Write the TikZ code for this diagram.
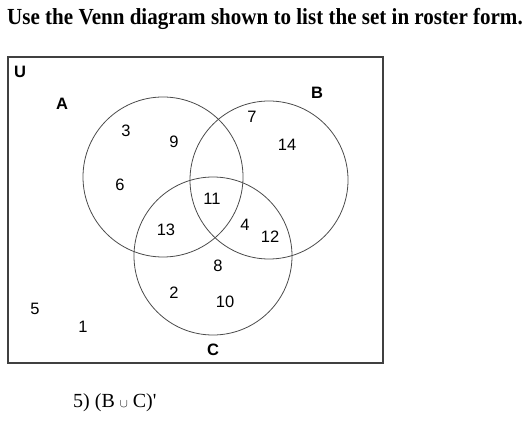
\documentclass[tikz,border=0pt]{standalone}
\usepackage{fontspec}
\setmainfont{Liberation Serif}
\setsansfont{Liberation Sans}

\begin{document}
\begin{tikzpicture}[x=1pt,y=-1pt,
  num/.style={font=\sffamily\fontsize{16.5}{16.5}\selectfont},
  setname/.style={font=\sffamily\bfseries\fontsize{16.5}{16.5}\selectfont},
  ring/.style={draw=black!70,line width=0.8pt}]
\useasboundingbox (0,0) rectangle (530,422);

%% Question
\node [anchor=base,font=\bfseries\fontsize{23}{27}\selectfont] (title) at (265,25)
  {\scalebox{0.915}[1]{Use the Venn diagram shown to list the set in roster form.}};

%% Universe
\draw [black!75,line width=1.3pt] (8,57) rectangle (383,363);
\node [setname] (U) at (20,72) {U};

%% Sets A, B, C
\draw [ring] (163,177) circle (80);
\draw [ring] (269,180) circle (79);
\draw [ring] (213,256) circle (79);
\node [setname] (A) at (62,104) {A};
\node [setname] (B) at (317,93) {B};
\node [setname] (C) at (213,350) {C};

%% Elements
\node [num] (n3) at (126,131) {3};
\node [num] (n9) at (174,142) {9};
\node [num] (n7) at (252,117) {7};
\node [num] (n14) at (287,145) {14};
\node [num] (n6) at (120,185) {6};
\node [num] (n11) at (212,199) {11};
\node [num] (n13) at (166,230) {13};
\node [num] (n4) at (245,225) {4};
\node [num] (n12) at (270,237) {12};
\node [num] (n8) at (218,266) {8};
\node [num] (n2) at (174,293) {2};
\node [num] (n10) at (225,302) {10};
\node [num] (n5) at (35,309) {5};
\node [num] (n1) at (83,327) {1};

%% Exercise
\node [anchor=base west,inner sep=0pt,font=\fontsize{20}{24}\selectfont] (ex) at (73,407)
  {5) (B {\fontsize{12}{12}\selectfont$\cup$} C)\textquotesingle};

\end{tikzpicture}
\end{document}
